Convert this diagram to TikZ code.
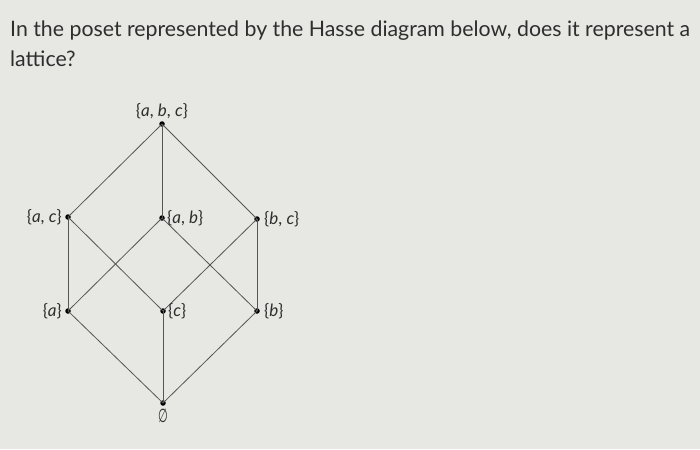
\documentclass[tikz,border=0pt]{standalone}
\usepackage{fontspec}
\setmainfont{Lato}
\newfontfamily\symfont{DejaVu Sans}
\definecolor{bg}{HTML}{E7E7E3}
\definecolor{ink}{HTML}{2E2E2E}
\definecolor{edge}{HTML}{555555}
\begin{document}
\begin{tikzpicture}[x=1pt,y=-1pt,
  pt/.style={circle,fill=black,inner sep=0pt,minimum size=5.5pt},
  lbl/.style={text=ink,font=\fontsize{17}{19}\selectfont,inner sep=2pt},
  ln/.style={draw=edge,line width=0.8pt},
  title/.style={anchor=base west,text=ink,font=\fontsize{21.3}{25}\selectfont,inner sep=0pt}]
\fill[bg] (0,0) rectangle (700,449);
\useasboundingbox (0,0) rectangle (700,449);
\node[title] (t1) at (10,37) {In the poset represented by the Hasse diagram below, does it represent a};
\node[title] (t2) at (10,67) {lattice?};
% vertices
\node[pt] (abc) at (162,124) {};
\node[pt] (ac) at (68,217) {};
\node[pt] (ab) at (162,218) {};
\node[pt] (bc) at (257,219) {};
\node[pt] (a) at (68,311) {};
\node[pt] (c) at (163,311) {};
\node[pt] (b) at (257,311) {};
\node[pt] (e) at (163,403) {};
% edges
\draw[ln] (abc.center) -- (ac.center);
\draw[ln] (abc.center) -- (ab.center);
\draw[ln] (abc.center) -- (bc.center);
\draw[ln] (ac.center) -- (a.center);
\draw[ln] (ac.center) -- (c.center);
\draw[ln] (ab.center) -- (a.center);
\draw[ln] (ab.center) -- (b.center);
\draw[ln] (bc.center) -- (c.center);
\draw[ln] (bc.center) -- (b.center);
\draw[ln] (a.center) -- (e.center);
\draw[ln] (c.center) -- (e.center);
\draw[ln] (b.center) -- (e.center);
% labels
\node[lbl,above=3pt] (labc) at (abc) {\{\textit{a}, \textit{b}, \textit{c}\}};
\node[lbl,left=4pt] (lac) at (ac) {\{\textit{a}, \textit{c}\}};
\node[lbl,right=3pt] (lab) at (ab) {\{\textit{a}, \textit{b}\}};
\node[lbl,right=5pt] (lbc) at (bc) {\{\textit{b}, \textit{c}\}};
\node[lbl,left=4pt] (la) at (a) {\{\textit{a}\}};
\node[lbl,right=3pt] (lc) at (c) {\{\textit{c}\}};
\node[lbl,right=5pt] (lb) at (b) {\{\textit{b}\}};
\node[lbl,below=4pt,font=\symfont\fontsize{14}{16}\selectfont] (le) at (e) {\scalebox{0.8}[1.35]{∅}};
\end{tikzpicture}
\end{document}
